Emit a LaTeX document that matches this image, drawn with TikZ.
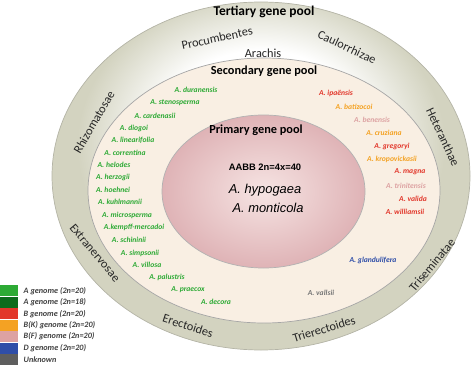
\documentclass[tikz,border=0pt]{standalone}
\usepackage{fontspec}
\setmainfont{Carlito}
\newfontfamily\arialfont{Liberation Sans}
\usetikzlibrary{positioning}

\definecolor{bandgray}{HTML}{D3D3C0}
\definecolor{ringline}{HTML}{B4B4A6}
\definecolor{cream}{HTML}{F9EFE3}
\definecolor{pinkin}{HTML}{F6E4E3}
\definecolor{pinkout}{HTML}{DFB3B6}
\definecolor{agreen}{HTML}{2DAA35}
\definecolor{adkgreen}{HTML}{0D6B1C}
\definecolor{bred}{HTML}{E2372B}
\definecolor{borange}{HTML}{F4A223}
\definecolor{bpink}{HTML}{DDA2A2}
\definecolor{dblue}{HTML}{2F4EA8}
\definecolor{unkgray}{HTML}{5E5E5E}

\pgfdeclareradialshading{tertshade}{\pgfpoint{0bp}{8bp}}{color(0bp)=(white); color(12bp)=(white); color(22bp)=(bandgray); color(50bp)=(bandgray)}

\begin{document}
\begin{tikzpicture}[
    x=0.3mm, y=-0.3mm,
    poolhead/.style={font=\fontsize{10.5}{12}\selectfont\bfseries, inner sep=0pt},
    ringlab/.style={font=\fontsize{10.5}{12}\selectfont, text=black!85, inner sep=0pt},
    sp/.style={font=\fontsize{6.5}{7}\selectfont\bfseries\itshape, inner sep=0pt},
    legbox/.style={minimum width=5.4mm, minimum height=3.3mm, inner sep=0pt},
    legtext/.style={font=\fontsize{7}{8}\selectfont\bfseries\itshape, text=black!75, inner sep=0pt, anchor=west}
]
\useasboundingbox (0,0) rectangle (474,366);

% the three pools
\shadedraw[shading=tertshade, draw=ringline, line width=0.6pt] (261,176) ellipse [x radius=209, y radius=174];
\filldraw[fill=cream, draw=black!35, line width=0.6pt] (264,190.5) ellipse [x radius=176, y radius=132.5];
\shadedraw[inner color=pinkin, outer color=pinkout, draw=black!30, line width=0.6pt] (263.5,191.5) ellipse [x radius=101.5, y radius=76.5];

% headings
\node[poolhead, font=\fontsize{11.5}{13}\selectfont\bfseries] (tert) at (264,12) {Tertiary gene pool};
\node[poolhead] (sec) at (264,71) {Secondary gene pool};
\node[poolhead] (prim) at (256,130) {Primary gene pool};

% sections of the genus
\node[ringlab, rotate=12] (procum) at (217,38) {Procumbentes};
\node[ringlab, rotate=-25] (caulor) at (347,47) {Caulorrhizae};
\node[ringlab] (arachis) at (263,53) {Arachis};
\node[ringlab, rotate=60] (rhizo) at (94,122) {Rhizomatosae};
\node[ringlab, rotate=-50] (extra) at (95,253) {Extranervosae};
\node[ringlab, rotate=-18] (erect) at (188,326) {Erectoides};
\node[ringlab, rotate=17] (trierect) at (324,329) {Trierectoides};
\node[ringlab, rotate=50] (trisem) at (432,265) {Triseminatae};
\node[ringlab, rotate=-65] (hetero) at (443,137) {Heteranthae};

% cultivated peanut
\node[font=\arialfont\fontsize{8}{9}\selectfont\bfseries, inner sep=0pt] (karyo) at (265,167) {AABB 2n=4x=40};
\node[font=\arialfont\fontsize{11}{12}\selectfont\itshape, inner sep=0pt] (hypo) at (265,190) {A. hypogaea};
\node[font=\arialfont\fontsize{11}{12}\selectfont\itshape, inner sep=0pt] (monti) at (268,208) {A. monticola};

% A genome species
\node[sp, text=agreen] (dura) at (196,90) {A. duranensis};
\node[sp, text=agreen] (steno) at (175,103) {A. stenosperma};
\node[sp, text=agreen] (carde) at (155,116) {A. cardenasii};
\node[sp, text=agreen] (diogo) at (134,128) {A. diogoi};
\node[sp, text=agreen] (linea) at (133,140) {A. linearifolia};
\node[sp, text=agreen] (corre) at (125,153) {A. correntina};
\node[sp, text=agreen] (helod) at (114,165) {A. helodes};
\node[sp, text=agreen] (herzo) at (113,177) {A. herzogii};
\node[sp, text=agreen] (hoehn) at (113,190) {A. hoehnei};
\node[sp, text=agreen] (kuhlm) at (120,202) {A. kuhlmannii};
\node[sp, text=agreen] (micro) at (127,215) {A. microsperma};
\node[sp, text=agreen] (kempf) at (134,227) {A.kempff-mercadoi};
\node[sp, text=agreen] (schin) at (129,240) {A. schininii};
\node[sp, text=agreen] (simps) at (140,253) {A. simpsonii};
\node[sp, text=agreen] (villo) at (147,265) {A. villosa};
\node[sp, text=agreen] (palus) at (167,277) {A. palustris};
\node[sp, text=agreen] (praec) at (188,290) {A. praecox};
\node[sp, text=agreen] (decor) at (216,302) {A. decora};

% B, K, F, D and unknown genome species
\node[sp, text=bred] (ipaen) at (336,93) {A. ipaënsis};
\node[sp, text=borange] (batiz) at (354,107) {A. batizocoi};
\node[sp, text=bpink] (benen) at (372,120) {A. benensis};
\node[sp, text=borange] (cruzi) at (384,133) {A. cruziana};
\node[sp, text=bred] (grego) at (392,146) {A. gregoryi};
\node[sp, text=borange] (kropo) at (392,159) {A. kropovickasii};
\node[sp, text=bred] (magna) at (410,172) {A. magna};
\node[sp, text=bpink] (trini) at (406,186) {A. trinitensis};
\node[sp, text=bred] (valid) at (413,199) {A. valida};
\node[sp, text=bred] (willi) at (405,212) {A. williamsii};
\node[sp, text=dblue] (gland) at (373,260) {A. glandulifera};
\node[sp, text=unkgray!85] (valls) at (321,293) {A. vallsii};

% legend
\node[legbox, fill=agreen, anchor=north west] (k1) at (0,285) {};
\node[legbox, fill=adkgreen, below=0pt of k1] (k2) {};
\node[legbox, fill=bred, below=0pt of k2] (k3) {};
\node[legbox, fill=borange, below=0pt of k3] (k4) {};
\node[legbox, fill=bpink, below=0pt of k4] (k5) {};
\node[legbox, fill=dblue, below=0pt of k5] (k6) {};
\node[legbox, fill=unkgray, below=0pt of k6] (k7) {};
\node[legtext, right=1.5mm of k1] (t1) {A genome (2n=20)};
\node[legtext, right=1.5mm of k2] (t2) {A genome (2n=18)};
\node[legtext, right=1.5mm of k3] (t3) {B genome (2n=20)};
\node[legtext, right=1.5mm of k4] (t4) {B(K) genome (2n=20)};
\node[legtext, right=1.5mm of k5] (t5) {B(F) genome (2n=20)};
\node[legtext, right=1.5mm of k6] (t6) {D genome (2n=20)};
\node[legtext, right=1.5mm of k7] (t7) {Unknown};
\end{tikzpicture}
\end{document}
